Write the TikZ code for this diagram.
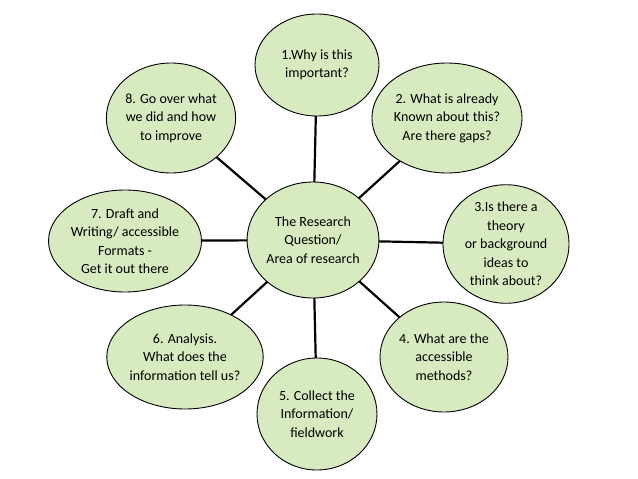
\documentclass[tikz,border=0pt]{standalone}
\usepackage{fontspec}
\setmainfont{Carlito}
\usetikzlibrary{shapes.geometric,backgrounds}
\definecolor{leaf}{RGB}{216,234,192}
\tikzset{
	bubble/.style={
		ellipse,
		draw=black,
		line width=0.9pt,
		fill=leaf,
		align=center,
		font=\fontsize{14}{18.5}\selectfont,
		inner sep=0pt,
	},
	spoke/.style={line width=2.2pt, black},
}
\begin{document}
\begin{tikzpicture}[x=1pt,y=-1pt]
    \useasboundingbox (0,0) rectangle (638,479);
    \node[bubble, minimum width=116pt, minimum height=116pt] (hub) at (313,240) {The Research\\Question/\\Area of research};
    \node[bubble, minimum width=124pt, minimum height=102pt] (q1) at (317,65) {1.Why is this\\important?};
    \node[bubble, minimum width=128pt, minimum height=110pt] (q2) at (447,118) {2. What is already\\Known about this?\\Are there gaps?};
    \node[bubble, minimum width=126pt, minimum height=116pt] (q3) at (506,244) {3.Is there a\\theory\\or background\\ideas to\\think about?};
    \node[bubble, minimum width=128pt, minimum height=110pt] (q4) at (444,357) {4. What are the\\accessible\\methods?};
    \node[bubble, minimum width=120pt, minimum height=112pt] (q5) at (317,414) {5. Collect the\\Information/\\fieldwork};
    \node[bubble, minimum width=132pt, minimum height=104pt] (q6) at (185,357) {6. Analysis.\\What does the\\information tell us?};
    \node[bubble, minimum width=132pt, minimum height=102pt] (q7) at (125,241) {7. Draft and\\Writing/ accessible\\Formats -\\Get it out there};
    \node[bubble, minimum width=128pt, minimum height=110pt] (q8) at (171,118) {8. Go over what\\we did and how\\to improve};

    \begin{scope}[on background layer]
        \foreach \q in {q1,q2,q3,q4,q5,q6,q7,q8}
            \draw[spoke] (hub.center) -- (\q.center);
    \end{scope}
\end{tikzpicture}
\end{document}
